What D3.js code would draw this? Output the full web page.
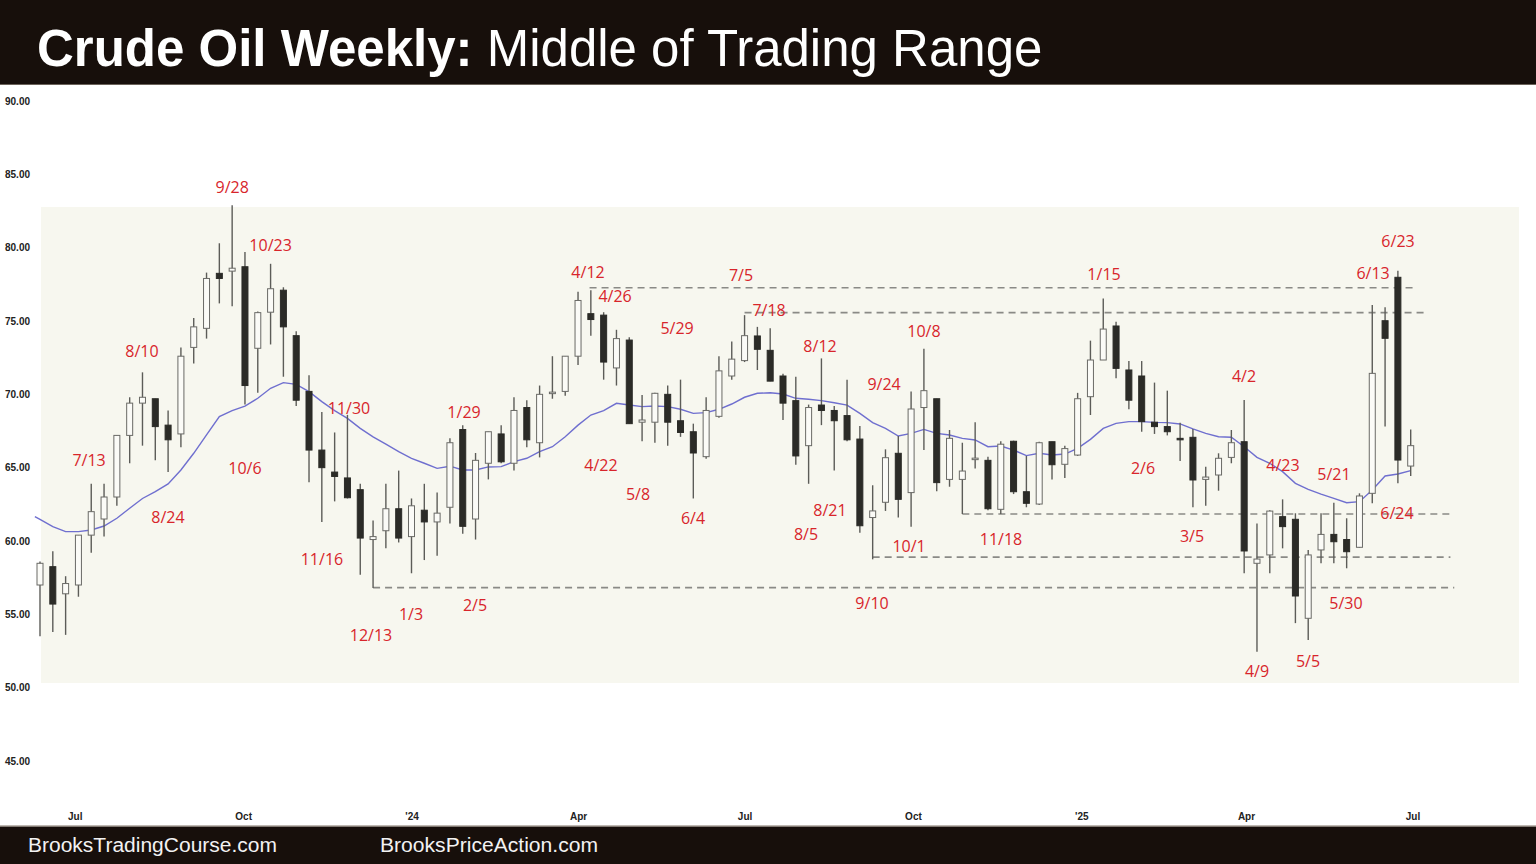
<!DOCTYPE html>
<html>
<head>
<meta charset="utf-8">
<script src="https://cdn.jsdelivr.net/npm/d3@7"></script>
<style>
  html, body { margin: 0; padding: 0; background: #ffffff; }
  svg { display: block; }
</style>
</head>
<body>
<svg id="chart" width="1536" height="864"></svg>
<script>
// ---------------- DATA ----------------
const firstWeek = "2023-06-12";
const lastWeek = "2025-06-30";

const open = [57.0,58.25,56.4,57.0,60.4,61.5,63.0,67.2,69.4,69.7,67.9,67.3,73.2,74.5,78.25,78.4,78.7,73.14,75.6,77.1,
74.0,70.2,66.2,64.7,64.3,63.5,60.1,60.7,62.2,60.3,62.1,61.3,62.3,67.6,61.5,65.3,67.3,65.3,69.1,66.7,
70.05,70.2,72.6,75.5,75.4,71.8,73.7,68.1,68.1,70.0,68.2,67.45,65.75,68.5,71.25,72.3,73.98,73.0,71.25,69.57,
66.5,69.27,68.9,68.55,66.95,61.6,62.64,65.98,63.3,69.1,69.7,64.2,64.2,65.55,65.5,62.16,66.8,63.36,62.52,66.77,
65.23,65.86,69.84,72.34,74.66,71.66,71.25,68.1,67.8,67.0,67.07,64.2,64.5,65.7,66.77,58.48,59.05,61.66,61.48,54.73,
59.39,60.45,60.1,59.57,63.25,75.02,77.98,65.11];
const high = [58.6,59.3,57.6,60.4,63.9,63.9,67.2,69.8,71.5,69.7,68.9,73.2,75.2,78.3,80.3,82.9,79.7,75.64,78.9,77.3,
74.3,71.3,68.8,67.4,68.6,63.9,61.4,63.9,64.8,62.9,63.9,63.3,67.0,67.9,66.0,67.45,67.9,69.8,69.6,70.6,
72.6,72.6,77.0,77.1,75.6,74.4,73.9,69.95,70.1,70.6,71.0,68.0,69.8,72.6,73.6,75.4,74.6,74.5,71.4,71.2,
69.3,72.45,69.2,71.0,67.84,63.8,66.25,67.16,70.2,73.1,69.7,67.57,66.7,68.1,65.75,66.8,66.84,65.8,66.77,66.77,
66.5,70.1,73.66,76.54,74.95,72.27,72.27,70.8,70.25,68.07,67.64,65.07,65.98,67.57,69.61,61.2,62.1,62.84,61.89,59.39,
61.89,62.61,61.55,63.25,76.09,75.93,78.43,67.6];
const low = [53.5,53.8,53.6,56.2,59.2,60.3,62.4,65.3,66.5,65.5,64.7,66.4,72.1,73.8,76.2,76.0,69.3,70.1,73.4,71.2,
69.2,64.0,61.3,62.7,62.9,57.7,56.8,59.5,59.9,57.8,58.7,59.0,61.2,60.5,60.1,64.2,65.3,64.8,66.4,65.7,
69.7,69.9,72.0,74.0,71.0,70.6,68.0,66.8,66.7,66.5,67.1,62.9,65.6,68.4,71.0,72.2,71.66,70.9,68.25,65.2,
63.9,67.9,64.8,66.8,60.57,58.75,62.05,61.6,60.98,66.2,63.4,63.7,61.84,64.95,62.1,61.84,63.2,62.3,62.45,64.2,
64.3,65.8,68.59,72.34,71.09,68.98,67.45,67.3,67.2,65.45,62.3,62.4,63.43,65.3,57.8,52.45,57.8,59.5,54.4,53.25,
58.48,58.48,58.14,59.55,62.57,67.8,63.93,64.43];
const close = [58.48,55.7,57.1,60.4,62.0,63.0,67.2,69.4,69.8,67.8,66.9,72.6,74.6,77.9,77.9,78.6,70.6,75.57,77.2,74.6,
69.6,66.2,65.0,64.4,62.95,60.2,60.3,62.2,60.2,62.4,61.3,61.9,66.7,61.0,65.5,67.45,65.4,68.9,66.9,70.0,
70.15,72.6,76.4,75.1,72.2,73.8,68.0,68.25,70.07,68.1,67.4,66.0,68.9,71.6,72.4,74.0,73.07,70.9,69.4,65.8,
69.1,68.9,68.2,66.9,61.04,62.05,65.68,62.84,69.0,70.25,63.98,67.0,64.77,65.65,62.2,66.6,63.36,62.57,66.7,65.2,
66.3,69.7,72.34,74.45,71.77,69.6,68.14,67.8,67.45,66.9,64.16,64.36,65.64,66.7,59.32,58.77,62.04,60.98,56.25,59.05,
60.45,59.95,59.27,63.07,71.43,73.82,65.52,66.5];
// 20-week moving average as drawn (blue line); maLead = value at the left edge before the first bar
const maLead = 61.66;
const movingAvg = [61.48,60.98,60.64,60.64,60.75,61.02,61.55,62.23,62.9,63.36,63.89,64.84,65.98,67.23,68.48,68.89,69.2,69.73,70.41,70.8,
70.68,70.18,69.5,68.89,68.36,67.68,67.1,66.6,66.09,65.64,65.3,64.95,65.1,64.84,64.84,65.05,65.07,65.41,65.64,66.09,
66.43,67.11,67.9,68.59,68.89,69.39,69.27,69.16,69.2,69.16,68.98,68.7,68.75,68.98,69.34,69.8,70.07,70.11,70.02,69.73,
69.66,69.57,69.43,69.27,68.7,68.07,67.68,67.16,67.34,67.61,67.34,67.23,67.0,66.89,66.43,66.48,66.2,65.82,65.98,65.86,
65.93,66.32,66.93,67.68,68.02,68.14,68.14,68.09,68.07,67.98,67.64,67.34,67.11,67.07,66.43,65.7,65.3,64.73,63.93,63.52,
63.2,62.91,62.61,62.68,63.48,64.43,64.57,64.8];

const yTicks = [45,50,55,60,65,70,75,80,85,90];
const xTickDates = ["2023-07-01","2023-10-01","2024-01-01","2024-04-01","2024-07-01","2024-10-01","2025-01-01","2025-04-01","2025-07-01"];
const xTickLabels = ["Jul","Oct","'24","Apr","Jul","Oct","'25","Apr","Jul"];

// Support / resistance levels (price, start week index, end week index)
const levelPrice = [77.27, 75.57, 61.84, 58.9, 56.82];
const levelFrom  = [42.9, 55, 72, 65, 26];
const levelTo    = [107.2, 108.1, 110.1, 110.1, 110.4];

// Annotations: text, week index, price
const annText  = ["9/28","10/23","8/10","7/13","10/6","8/24","11/30","11/16","12/13","1/3","1/29","2/5",
  "4/12","4/26","5/29","4/22","5/8","6/4","7/5","7/18","8/12","10/8","9/24","8/21","8/5","10/1","9/10",
  "11/18","1/15","2/6","3/5","4/2","4/23","5/21","4/9","5/5","5/30","6/13","6/23","6/24"];
const annWeek  = [15.0,18.0,7.96,3.83,16.0,9.99,24.12,22.01,25.84,28.96,33.1,33.96,
  42.78,44.89,49.73,43.79,46.68,50.98,54.72,56.91,60.89,69.0,65.89,61.67,59.8,67.84,64.95,
  75.02,83.06,86.1,89.93,93.99,97.03,101.01,95.0,98.98,101.95,104.06,106.01,105.93];
const annPrice = [84.14,80.18,72.95,65.52,64.98,61.64,69.07,58.77,53.59,55.02,68.8,55.64,
  78.34,76.7,74.52,65.18,63.2,61.57,78.14,75.75,73.3,74.32,70.7,62.11,60.48,59.66,55.77,
  60.14,78.2,64.98,60.34,71.25,65.18,64.57,51.14,51.82,55.77,78.27,80.45,61.91];

// ---------------- CHART ----------------
const svg = d3.select("#chart");
const W = 1536, H = 864;
const parse = d3.timeParse("%Y-%m-%d");
const weeks = d3.timeMonday.range(parse(firstWeek), d3.timeDay.offset(parse(lastWeek), 1));

const x = d3.scaleTime().domain([parse(firstWeek), parse(lastWeek)]).range([40, 1410.7]);
const xi = d3.scaleLinear().domain([0, weeks.length - 1]).range([x(weeks[0]), x(weeks[weeks.length - 1])]);
const y = d3.scaleLinear().domain([45, 90]).range([761, 101]);

// header
svg.append("rect").attr("x",0).attr("y",0).attr("width",W).attr("height",84).attr("fill","#170f0b");
svg.append("line").attr("x1",0).attr("x2",W).attr("y1",84.5).attr("y2",84.5).attr("stroke","#6b625a").attr("stroke-width",1);
const title = svg.append("text").attr("x",37).attr("y",66)
  .attr("font-family","'Liberation Sans', Arial, sans-serif").attr("font-size",51).attr("fill","#ffffff");
title.append("tspan").attr("font-weight","bold").text("Crude Oil Weekly:");
title.append("tspan").attr("font-weight","normal").text(" Middle of Trading Range");

// panel background
svg.append("rect").attr("x",41).attr("y",207).attr("width",1478).attr("height",476).attr("fill","#f7f7ef");

// y axis labels
svg.append("g").selectAll("text").data(yTicks).join("text")
  .attr("x",5).attr("y",d => y(d)).attr("dy","0.35em")
  .attr("font-family","'Liberation Sans', Arial, sans-serif").attr("font-weight","bold")
  .attr("font-size",10).attr("fill","#222")
  .text(d => d3.format(".2f")(d));

// x axis labels
const xAxis = d3.axisBottom(x).tickValues(xTickDates.map(parse)).tickSize(0)
  .tickFormat((d,i) => xTickLabels[i]);
const gx = svg.append("g").attr("transform","translate(0,810)").call(xAxis);
gx.select(".domain").remove();
gx.selectAll("text").attr("font-family","'Liberation Sans', Arial, sans-serif")
  .attr("font-weight","bold").attr("font-size",10).attr("fill","#222");

// dashed levels
svg.append("g").selectAll("line").data(levelPrice).join("line")
  .attr("x1",(d,i) => xi(levelFrom[i])).attr("x2",(d,i) => xi(levelTo[i]))
  .attr("y1",d => y(d)).attr("y2",d => y(d))
  .attr("stroke","#8a8a86").attr("stroke-width",1.6).attr("stroke-dasharray","7,5");

// moving average
const maPts = [[xi(-0.4), maLead]].concat(movingAvg.map((v,i) => [x(weeks[i]), v]));
svg.append("path").datum(maPts)
  .attr("fill","none").attr("stroke","#6f6fcf").attr("stroke-width",1.4)
  .attr("d", d3.line().x(d => d[0]).y(d => y(d[1])));

// candles
const candles = svg.append("g").selectAll("g").data(weeks).join("g");
candles.append("line")
  .attr("x1",(d,i) => x(d)).attr("x2",(d,i) => x(d))
  .attr("y1",(d,i) => y(high[i])).attr("y2",(d,i) => y(low[i]))
  .attr("stroke","#5c5c58").attr("stroke-width",1.4);
const bw = 6;
candles.append("rect")
  .attr("x",(d,i) => x(d) - bw/2)
  .attr("y",(d,i) => y(Math.max(open[i], close[i])))
  .attr("width",bw)
  .attr("height",(d,i) => Math.max(1.5, Math.abs(y(open[i]) - y(close[i]))))
  .attr("fill",(d,i) => close[i] >= open[i] ? "#fbfbf7" : "#2b2b27")
  .attr("stroke",(d,i) => close[i] >= open[i] ? "#6a6a66" : "#2b2b27")
  .attr("stroke-width",1);

// annotations
svg.append("g").selectAll("text").data(annText).join("text")
  .attr("x",(d,i) => xi(annWeek[i])).attr("y",(d,i) => y(annPrice[i]))
  .attr("dy","0.35em").attr("text-anchor","middle")
  .attr("font-family","'Open Sans', 'Noto Sans', sans-serif").attr("font-size",16)
  .attr("fill","#d8252b")
  .text(d => d);

// footer
svg.append("rect").attr("x",0).attr("y",826).attr("width",W).attr("height",H-826).attr("fill","#170f0b");
svg.append("line").attr("x1",0).attr("x2",W).attr("y1",826).attr("y2",826).attr("stroke","#a8a098").attr("stroke-width",1.5);
svg.append("text").attr("x",28).attr("y",852)
  .attr("font-family","'Liberation Sans Narrow', 'Liberation Sans', Arial, sans-serif").attr("font-size",20)
  .attr("fill","#f2f2f2").attr("textLength",249).attr("lengthAdjust","spacingAndGlyphs")
  .text("BrooksTradingCourse.com");
svg.append("text").attr("x",380).attr("y",852)
  .attr("font-family","'Liberation Sans Narrow', 'Liberation Sans', Arial, sans-serif").attr("font-size",20)
  .attr("fill","#f2f2f2").attr("textLength",218).attr("lengthAdjust","spacingAndGlyphs")
  .text("BrooksPriceAction.com");
</script>
</body>
</html>
